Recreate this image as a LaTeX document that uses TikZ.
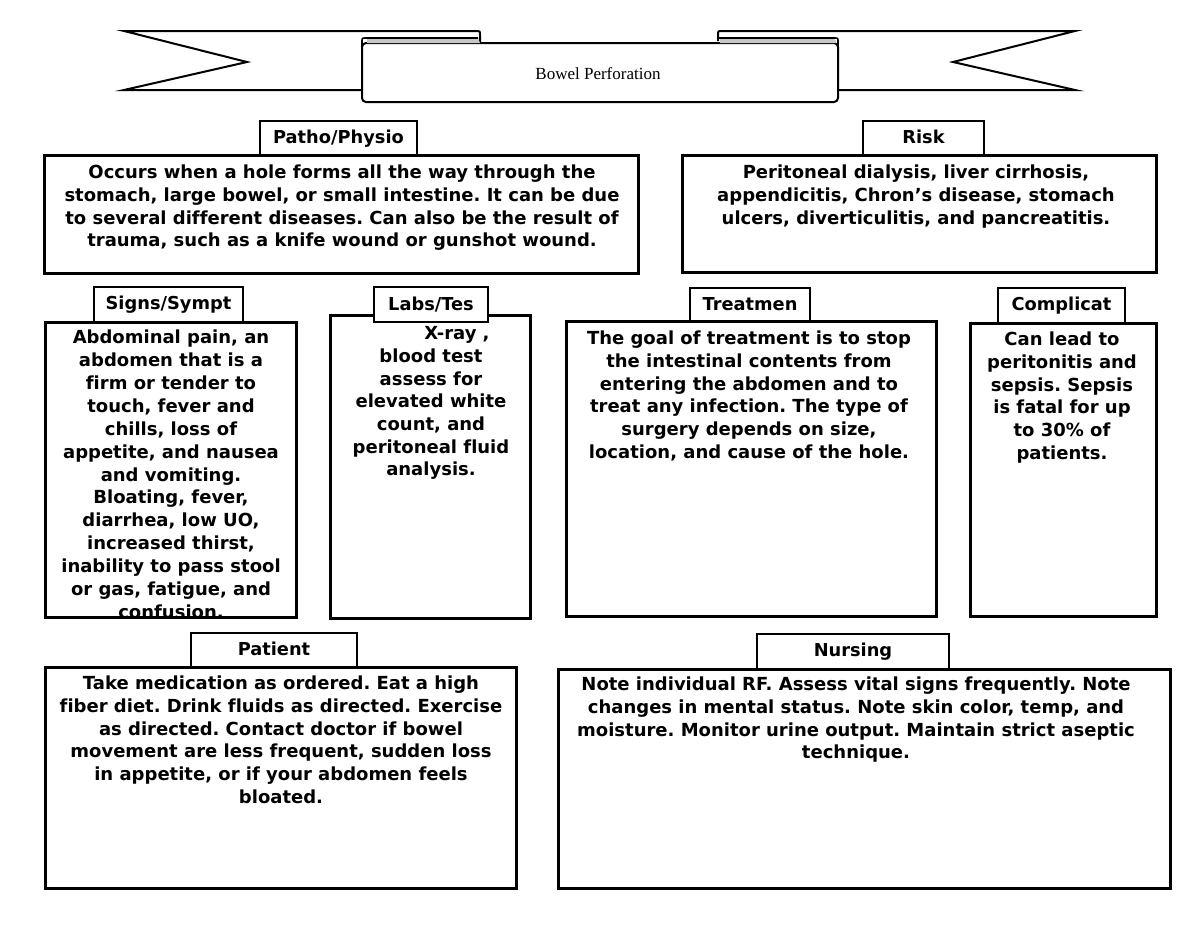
\documentclass[tikz,border=0pt]{standalone}
\usepackage{fontspec}
\setmainfont{DejaVu Sans}[Ligatures={NoCommon}]
\newfontfamily\titlefont{Liberation Serif}
\frenchspacing
\begin{document}
\begin{tikzpicture}[x=1pt,y=-1pt,
  mainbox/.style={draw=black, line width=3pt, fill=white},
  headbox/.style={draw=black, line width=1.6pt, fill=white},
  body/.style={font=\bfseries\fontsize{18}{22.7}\selectfont\frenchspacing, align=center, inner sep=0pt, anchor=north},
  head/.style={font=\bfseries\fontsize{17.8}{20}\selectfont, inner sep=0pt, anchor=base},
  ribbon/.style={draw=black, line width=2pt, line join=miter},
  foldline/.style={draw=black, line width=1.6pt},
  foldfill/.style={fill=black!22},
]
\useasboundingbox (0,0) rectangle (1200,927);

% ---- banner ----
\draw[ribbon] (362,90) -- (124,90) -- (247,62) -- (124,31) -- (476,31) .. controls (480,31) .. (480,35) -- (480,43);
\draw[ribbon] (838,90) -- (1075,90) -- (953,62) -- (1075,31) -- (722,31) .. controls (718,31) .. (718,35) -- (718,41);
\draw[line width=2pt, fill=white, rounded corners=4pt] (362,43) rectangle (838,102);
\fill[foldfill] (367,38) -- (478,38) -- (480,43) -- (367,43) -- cycle;
\draw[foldline] (362,50) -- (362,42) .. controls (362,38) .. (366,38) -- (478,38);
\fill[foldfill] (720,38) -- (834,38) -- (837,43) -- (720,43) -- cycle;
\draw[foldline] (719,38) -- (834,38) .. controls (838,38) .. (838,42) -- (838,50);
\node[font=\titlefont\fontsize{17}{20}\selectfont, anchor=base, inner sep=0pt] (title) at (598,79) {Bowel Perforation};

% ---- Patho/Physio ----
\draw[headbox] (259.8,120.8) rectangle (417.2,155.5);
\draw[mainbox] (44.5,155.5) rectangle (638.5,273.5);
\node[head] (pathoh) at (338.5,143.8) {Patho/Physio};
\node[body] (patho) at (342,164.8) {Occurs when a hole forms all the way through the\\
stomach, large bowel, or small intestine. It can be due\\
to several different diseases. Can also be the result of\\
trauma, such as a knife wound or gunshot wound.};

% ---- Risk ----
\draw[headbox] (862.8,120.8) rectangle (984.2,155.5);
\draw[mainbox] (682.5,155.5) rectangle (1156.5,272.5);
\node[head] (riskh) at (923.5,143.8) {Risk};
\node[body] (risk) at (916,164.8) {Peritoneal dialysis, liver cirrhosis,\\
appendicitis, Chron’s disease, stomach\\
ulcers, diverticulitis, and pancreatitis.};

% ---- Signs/Sympt ----
\draw[headbox] (93.8,286.8) rectangle (243.2,322.5);
\draw[mainbox] (45.5,322.5) rectangle (296.5,617.5);
\node[head] (signsh) at (168.5,309.8) {Signs/Sympt};
\begin{scope}
\clip (47,324) rectangle (295,615);
\node[body, font=\bfseries\fontsize{18}{22.9}\selectfont\frenchspacing] (signs) at (171,329.8) {Abdominal pain, an\\ abdomen that is a\\ firm or tender to\\ touch, fever and\\ chills, loss of\\ appetite, and nausea\\ and vomiting.\\ Bloating, fever,\\ diarrhea, low UO,\\ increased thirst,\\ inability to pass stool\\ or gas, fatigue, and\\ confusion.};
\end{scope}
\draw[line width=3pt] (45.5,322.5) rectangle (296.5,617.5);

% ---- Labs/Tes ----
\draw[mainbox] (330.5,315.5) rectangle (530.5,618.5);
\draw[headbox] (373.8,286.8) rectangle (488.2,322);
\node[head] (labsh) at (431,310.3) {Labs/Tes};
\node[body] (labs) at (431,326.4) {\hspace*{52pt}X-ray ,\\ blood test\\ assess for\\ elevated white\\ count, and\\ peritoneal fluid\\ analysis.};

% ---- Treatmen ----
\draw[headbox] (689.8,287.8) rectangle (810.2,321.5);
\draw[mainbox] (566.5,321.5) rectangle (936.5,616.5);
\node[head] (treath) at (750,310.3) {Treatmen};
\node[body] (treat) at (749,330.8) {The goal of treatment is to stop\\ the intestinal contents from\\ entering the abdomen and to\\ treat any infection. The type of\\ surgery depends on size,\\ location, and cause of the hole.};

% ---- Complicat ----
\draw[headbox] (997.8,287.8) rectangle (1125.2,323.5);
\draw[mainbox] (970.5,323.5) rectangle (1156.5,616.5);
\node[head] (comph) at (1061.5,310.8) {Complicat};
\node[body] (comp) at (1062,331.8) {Can lead to\\ peritonitis and\\ sepsis. Sepsis\\ is fatal for up\\ to 30\% of\\ patients.};

% ---- Patient ----
\draw[headbox] (190.8,632.8) rectangle (357.2,667.5);
\draw[mainbox] (45.5,667.5) rectangle (516.5,888.5);
\node[head] (patienth) at (274,655.8) {Patient};
\node[body] (patient) at (281,675.8) {Take medication as ordered. Eat a high\\ fiber diet. Drink fluids as directed. Exercise\\ as directed. Contact doctor if bowel\\ movement are less frequent, sudden loss\\ in appetite, or if your abdomen feels\\ bloated.};

% ---- Nursing ----
\draw[headbox] (756.8,633.8) rectangle (949.2,669.5);
\draw[mainbox] (558.5,669.5) rectangle (1170.5,888.5);
\node[head] (nursingh) at (853,656.8) {Nursing};
\node[body] (nursing) at (856,676.8) {Note individual RF. Assess vital signs frequently. Note\\ changes in mental status. Note skin color, temp, and\\ moisture. Monitor urine output. Maintain strict aseptic\\ technique.};
\end{tikzpicture}
\end{document}
